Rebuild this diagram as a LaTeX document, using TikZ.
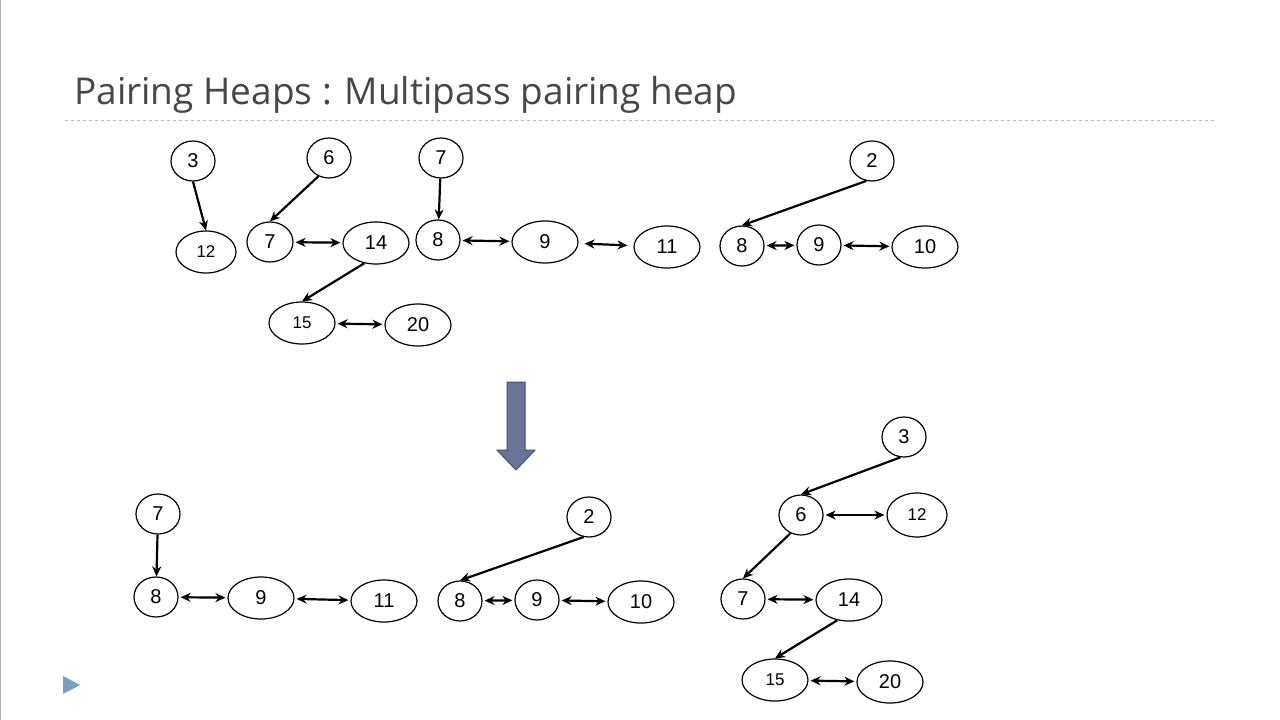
\documentclass[tikz,border=0pt]{standalone}
\usepackage{fontspec}
\setmainfont{Liberation Sans}
\newfontfamily\titlefont{Open Sans}
\usetikzlibrary{shapes.geometric,arrows.meta}
\definecolor{arrfill}{RGB}{104,116,152}
\definecolor{arrdraw}{RGB}{70,80,110}
\definecolor{playc}{RGB}{120,160,190}
\begin{document}
\begin{tikzpicture}[x=1pt,y=-1pt,
  nd/.style={draw,ellipse,line width=1.2pt,inner sep=0pt,font=\fontsize{20}{20}\selectfont},
  sm/.style={nd,minimum width=44pt,minimum height=40pt},
  lg/.style={nd,minimum width=66pt,minimum height=42pt},
  ch/.style={line width=2.2pt,-{Stealth[length=10pt,width=9pt]}},
  sib/.style={line width=2.2pt,{Stealth[length=10pt,width=9pt]}-{Stealth[length=10pt,width=9pt]},shorten <=2pt,shorten >=2pt}]
\useasboundingbox (0,0) rectangle (1280,720);
\fill[white] (0,0) rectangle (1280,720);
\draw[gray!60] (0.5,0) -- (0.5,720);
\node[anchor=base west,font=\titlefont\fontsize{37}{37}\selectfont,text=black!72,inner sep=0pt] (title) at (74,104) {Pairing Heaps : Multipass pairing heap};
\draw[gray!50,dashed,line width=0.8pt] (65,120) -- (1215,120);
% top
\node[sm] (t3) at (193,161) {3};
\node[nd,minimum width=60pt,minimum height=42pt,font=\fontsize{17}{17}\selectfont] (t12) at (206,252) {12};
\node[sm] (t6) at (329,158) {6};
\node[sm,minimum width=46pt] (t7) at (270,242) {7};
\node[lg] (t14) at (376,243) {14};
\node[lg,font=\fontsize{17}{17}\selectfont] (t15) at (302,323) {15};
\node[lg] (t20) at (418,325) {20};
\node[sm] (u7) at (441,158) {7};
\node[sm] (u8) at (438,240) {8};
\node[lg] (u9) at (545,242) {9};
\node[lg] (u11) at (667,247) {11};
\node[sm] (v2) at (872,161) {2};
\node[sm] (v8) at (742,246) {8};
\node[sm] (v9) at (819,245) {9};
\node[lg] (v10) at (925,247) {10};
\draw[ch] (t3.south) -- (t12.north);
\draw[ch] (t6.240) -- (t7.north);
\draw[sib] (t7) -- (t14);
\draw[ch] (t14.240) -- (t15.north);
\draw[sib] (t15) -- (t20);
\draw[ch] (u7) -- (u8);
\draw[sib] (u8) -- (u9);
\draw[sib,shorten <=6pt,shorten >=6pt] (u9) -- (u11);
\draw[ch] (v2.254) -- (v8.north);
\draw[sib] (v8) -- (v9);
\draw[sib] (v9) -- (v10);
% big arrow
\draw[fill=arrfill,draw=arrdraw,line width=1pt]
  (507,382) -- (525,382) -- (525,450) -- (535,450) -- (516,470) -- (497,450) -- (507,450) -- cycle;
% bottom
\node[sm] (a7) at (158,514) {7};
\node[sm] (a8) at (156,597) {8};
\node[lg] (a9) at (261,598) {9};
\node[lg] (a11) at (384,601) {11};
\node[sm] (b2) at (589,517) {2};
\node[sm] (b8) at (460,601) {8};
\node[sm] (b9) at (537,600) {9};
\node[lg] (b10) at (641,602) {10};
\node[sm] (c3) at (904,437) {3};
\node[sm] (c6) at (801,515) {6};
\node[nd,minimum width=60pt,minimum height=44pt,font=\fontsize{17}{17}\selectfont] (c12) at (917,515) {12};
\node[sm] (c7) at (743,599) {7};
\node[lg] (c14) at (849,600) {14};
\node[lg,font=\fontsize{17}{17}\selectfont] (c15) at (775,680) {15};
\node[lg] (c20) at (890,682) {20};
\draw[ch] (a7) -- (a8);
\draw[sib] (a8) -- (a9);
\draw[sib] (a9) -- (a11);
\draw[ch] (b2.255) -- (b8.north);
\draw[sib] (b8) -- (b9);
\draw[sib] (b9) -- (b10);
\draw[ch] (c3.260) -- (c6.north);
\draw[sib] (c6) -- (c12);
\draw[ch] (c6.240) -- (c7.north);
\draw[sib] (c7) -- (c14);
\draw[ch] (c14.240) -- (c15.north);
\draw[sib] (c15) -- (c20);
% play icon
\fill[playc] (63,676) -- (80,685) -- (63,694) -- cycle;
\end{tikzpicture}
\end{document}
